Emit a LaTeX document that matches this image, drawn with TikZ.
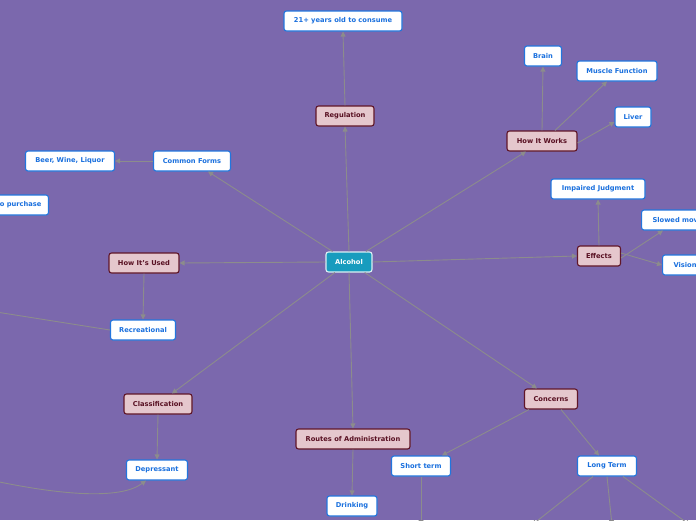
\documentclass[tikz,border=0pt]{standalone}
\usepackage{fontspec}
\setmainfont{DejaVu Sans}
\usetikzlibrary{arrows.meta,shadows}
\definecolor{bgc}{RGB}{123,104,173}
\definecolor{mainfill}{RGB}{229,199,205}
\definecolor{maindraw}{RGB}{96,22,40}
\definecolor{maintext}{RGB}{88,16,34}
\definecolor{subdraw}{RGB}{34,118,222}
\definecolor{subtext}{RGB}{26,112,222}
\definecolor{cenfill}{RGB}{24,156,190}
\definecolor{edgec}{RGB}{140,140,140}
\tikzset{
  base/.style={rounded corners=2.5pt, line width=1.1pt, inner sep=0pt, minimum height=20pt,
    font=\fontsize{6.7}{8}\selectfont\bfseries, drop shadow={shadow xshift=0.5pt, shadow yshift=-0.7pt, opacity=0.25}},
  central/.style={base, fill=cenfill, draw=white!85!cenfill, text=white},
  maintopic/.style={base, fill=mainfill, draw=maindraw, text=maintext},
  subtopic/.style={base, fill=white, draw=subdraw, text=subtext},
  link/.style={draw=edgec, line width=0.9pt, -{Triangle[length=5pt,width=5pt]}},
  plainlink/.style={draw=edgec, line width=0.9pt}
}
\begin{document}
\begin{tikzpicture}[x=1pt,y=-1pt]
\useasboundingbox (0,0) rectangle (696,520);
\fill[bgc] (0,0) rectangle (696,520);
\clip (0,0) rectangle (696,520);
% off-canvas coordinates
\coordinate (offrec) at (-10,311);
\coordinate (offdep) at (-10,480);
\coordinate (s1) at (421,525);
\coordinate (l1) at (532,525);
\coordinate (l2) at (612,525);
\coordinate (l3) at (690,525);
% nodes
\node[central, minimum width=46pt] (alc) at (349,262) {Alcohol};
\node[maintopic, minimum width=58pt] (reg) at (345,116) {Regulation};
\node[subtopic, minimum width=118pt] (age) at (343,21) {21+ years old to consume};
\node[subtopic, minimum width=77pt] (forms) at (192,161) {Common Forms};
\node[subtopic, minimum width=89pt] (beer) at (70,161) {Beer, Wine, Liquor};
\node[subtopic, minimum width=80pt, anchor=east, align=right, text width=74pt] (purch) at (49,205) {o purchase\hspace*{4pt}};
\node[maintopic, minimum width=70pt] (used) at (144,263) {How It's Used};
\node[subtopic, minimum width=65pt] (rec) at (143,330) {Recreational};
\node[maintopic, minimum width=68pt] (cls) at (158,404) {Classification};
\node[subtopic, minimum width=61pt] (dep) at (157,470) {Depressant};
\node[maintopic, minimum width=114pt] (route) at (353,439) {Routes of Administration};
\node[subtopic, minimum width=50pt] (drink) at (352,506) {Drinking};
\node[maintopic, minimum width=70pt] (works) at (542,141) {How It Works};
\node[subtopic, minimum width=37pt] (brain) at (543,56) {Brain};
\node[subtopic, minimum width=80pt] (muscle) at (617,71) {Muscle Function};
\node[subtopic, minimum width=36pt] (liver) at (633,117) {Liver};
\node[maintopic, minimum width=43pt] (eff) at (599,256) {Effects};
\node[subtopic, minimum width=94pt] (judg) at (598,189) {Impaired Judgment};
\node[subtopic, minimum width=80pt, anchor=west, align=left, text width=72pt] (slow) at (641,220) {\hspace*{7pt}Slowed mov};
\node[subtopic, minimum width=60pt, anchor=west, align=left, text width=52pt] (vis) at (662,265) {\hspace*{7pt}Vision};
\node[maintopic, minimum width=53pt] (conc) at (551,399) {Concerns};
\node[subtopic, minimum width=59pt] (short) at (421,466) {Short term};
\node[subtopic, minimum width=59pt] (long) at (607,466) {Long Term};
% edges
\begin{scope}[on background layer/.style={}]
\draw[link] (alc.north) -- (reg.south);
\draw[link] (reg.north) -- (age.south);
\draw[link] (alc) -- ([xshift=16pt]forms.south);
\draw[link] (forms.west) -- (beer.east);
\draw[link] (alc.west) -- (used.east);
\draw[link] (used.south) -- (rec.north);
\draw[link] (alc) -- ([xshift=14pt]cls.north);
\draw[link] (cls.south) -- (dep.north);
\draw[link] (alc.south) -- (route.north);
\draw[link] (route.south) -- (drink.north);
\draw[link] (alc) -- ([xshift=-16pt]works.south);
\draw[link] (works.north) -- (brain.south);
\draw[link] ([xshift=13pt]works.north) -- ([xshift=-10pt]muscle.south);
\draw[link] ([yshift=-2pt]works.east) -- ([yshift=-5pt]liver.west);
\draw[link] (alc.east) -- (eff.west);
\draw[link] (eff.north) -- (judg.south);
\draw[link] ([yshift=-2pt]eff.east) -- ([xshift=22pt]slow.south west);
\draw[link] ([yshift=3pt]eff.east) -- (vis.west);
\draw[link] (alc) -- ([xshift=-14pt]conc.north);
\draw[link] ([xshift=-22pt]conc.south) -- ([xshift=21pt]short.north);
\draw[link] ([xshift=10pt]conc.south) -- ([xshift=-8pt]long.north);
\draw[plainlink] (offrec) -- (rec.west);
\draw[link] (offdep) .. controls (60,495) and (120,500) .. ([xshift=-11pt]dep.south);
\draw[link] (short.south) -- (s1);
\draw[link] ([xshift=-14pt]long.south) -- (l1);
\draw[link] (long.south) -- (l2);
\draw[link] ([xshift=16pt]long.south) -- (l3);
\end{scope}
\end{tikzpicture}
\end{document}
